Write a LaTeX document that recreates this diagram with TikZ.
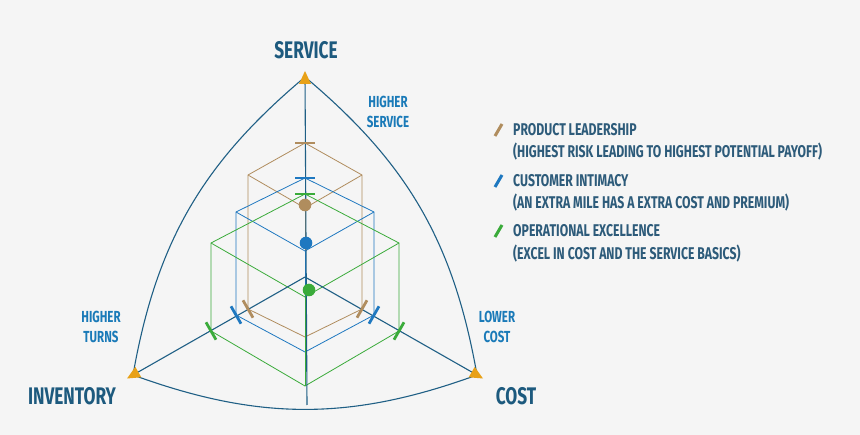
\documentclass[tikz,border=0pt]{standalone}
\usepackage{fontspec}
\setmainfont{Fira Sans}[FakeStretch=0.72]
\usetikzlibrary{calc}
\begin{document}
\begin{tikzpicture}[x=1pt,y=-1pt,
  ax/.style={draw=axc,line width=1.1pt},
  tip/.style={fill=tipc},
  lab/.style={text=titc,font=\fontsize{24}{24}\selectfont\bfseries,inner sep=0},
  sub/.style={text=subc,font=\fontsize{16}{20}\selectfont\bfseries,align=center,inner sep=0},
  leg/.style={text=legc,font=\fontsize{17}{17}\selectfont\bfseries,anchor=west,inner sep=0},
  box/.style={line width=0.8pt},
  tk/.style={line width=2.8pt}]
\definecolor{axc}{HTML}{1F5F85}
\definecolor{tipc}{HTML}{E8A117}
\definecolor{titc}{HTML}{1D5A7E}
\definecolor{subc}{HTML}{1A7AB8}
\definecolor{legc}{HTML}{2D5B7A}
\definecolor{tanc}{HTML}{B08D5E}
\definecolor{bluc}{HTML}{1E78C0}
\definecolor{grnc}{HTML}{3AAB3A}
\fill[white!96!black] (0,0) rectangle (860,435);
\useasboundingbox (0,0) rectangle (860,435);
\coordinate (T) at (305,77);
\coordinate (L) at (133,375);
\coordinate (R) at (477,375);
\coordinate (O) at (305,277);
\coordinate (B) at (307,405);
% outer curved triangle
\draw[ax] (T) to[bend right=20] (L) to[bend right=20] (R) to[bend right=20] (T);
% boxes
\foreach \c/\ty/\hx/\uy/\ly/\by/\dy in {tanc/143/57/175/309/337/208, bluc/178/69/212/315/352/251, grnc/194/94/243/331/386/297}{
  \draw[\c,box] (305,\ty) -- (305-\hx,\uy) -- (305-\hx,\ly) -- (305,\by) -- (305+\hx,\ly) -- (305+\hx,\uy) -- cycle;
  \draw[\c,box] (305-\hx,\uy) -- (305,\dy) -- (305+\hx,\uy);
  \draw[\c,box] (305,\dy) -- (305,\by);
}
% axes
\draw[ax] (O) -- (L);
\draw[ax] (O) -- (R);
\draw[ax] (T) -- (B);
% ticks
\foreach \c/\ty/\hx/\ly in {tanc/143/57/309, bluc/178/69/315, grnc/194/94/331}{
  \draw[\c,tk] (295,\ty) -- (315,\ty);
  \draw[\c,tk] ($(305-\hx,\ly)+(-5,-8.7)$) -- ($(305-\hx,\ly)+(5,8.7)$);
  \draw[\c,tk] ($(305+\hx,\ly)+(5,-8.7)$) -- ($(305+\hx,\ly)+(-5,8.7)$);
}
% dots
\fill[tanc] (305,205) circle (6.3);
\fill[bluc] (306,243) circle (6.3);
\fill[grnc] (309,290) circle (6.3);
% arrow tips
\fill[tip] (T) ++(0,-6) -- ++(-6,13) -- ++(12,0) -- cycle;
\fill[tip] (L) ++(-6,3.5) -- ++(14.3,-1.2) -- ++(-6,-10.4) -- cycle;
\fill[tip] (R) ++(6,3.5) -- ++(-14.3,-1.2) -- ++(6,-10.4) -- cycle;
% labels
\node[lab] (ls) at (306,50) {SERVICE};
\node[lab] (li) at (72,396) {INVENTORY};
\node[lab] (lc) at (516,396) {COST};
\node[sub] (hs) at (388,112) {HIGHER\\SERVICE};
\node[sub] (ht) at (101,327) {HIGHER\\TURNS};
\node[sub] (lo) at (497,327) {LOWER\\COST};
% legend
\foreach \c/\y in {tanc/130, bluc/181, grnc/231}
  \draw[\c,line width=3pt] (495,\y+6) -- (502,\y-6);
\node[leg] (a1) at (513,130) {PRODUCT LEADERSHIP};
\node[leg] (a2) at (513,152) {(HIGHEST RISK LEADING TO HIGHEST POTENTIAL PAYOFF)};
\node[leg] (b1) at (513,181) {CUSTOMER INTIMACY};
\node[leg] (b2) at (513,203) {(AN EXTRA MILE HAS A EXTRA COST AND PREMIUM)};
\node[leg] (c1) at (513,231) {OPERATIONAL EXCELLENCE};
\node[leg] (c2) at (513,254) {(EXCEL IN COST AND THE SERVICE BASICS)};
\end{tikzpicture}
\end{document}
